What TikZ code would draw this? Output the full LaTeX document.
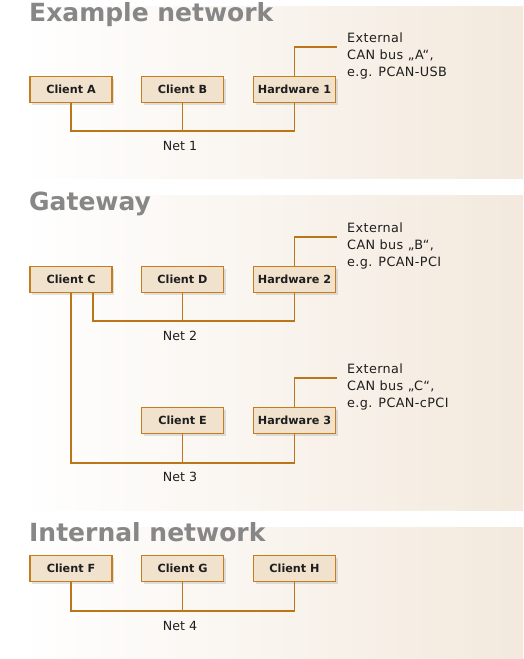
\documentclass[tikz,border=0pt]{standalone}
\usepackage{fontspec}
\setmainfont{DejaVu Sans}
\usetikzlibrary{shadows}
\definecolor{panelbeige}{HTML}{F3E9DD}
\definecolor{boxfill}{HTML}{F1E2CD}
\definecolor{boxline}{HTML}{C47C1C}
\definecolor{wire}{HTML}{BC761A}
\definecolor{headgray}{HTML}{878787}
\definecolor{txt}{HTML}{1E1E1E}
\tikzset{
  unit/.style={draw=boxline, line width=1.7pt, fill=boxfill, minimum width=82pt, minimum height=26pt,
    inner sep=0pt, font=\fontsize{11.2}{12}\selectfont\bfseries, text=txt,
    drop shadow={shadow xshift=2pt, shadow yshift=-2pt, opacity=0.22}},
  wirestyle/.style={draw=wire, line width=1.6pt},
  heading/.style={anchor=base west, inner sep=0pt, font=\fontsize{25}{26}\selectfont\bfseries, text=headgray},
  note/.style={anchor=west, align=left, inner sep=0pt, font=\fontsize{12.8}{16.6}\selectfont\addfontfeatures{LetterSpace=3}, text=txt},
  netlabel/.style={inner sep=0pt, font=\fontsize{12.6}{14}\selectfont, text=txt}
}
\begin{document}
\begin{tikzpicture}[x=1pt,y=-1pt]
\useasboundingbox (0,0) rectangle (524,659);
\fill[white] (0,0) rectangle (524,659);
% panels
\shade[left color=white, right color=panelbeige] (20,6) rectangle (523,178);
\shade[left color=white, right color=panelbeige] (20,195) rectangle (523,510);
\shade[left color=white, right color=panelbeige] (20,527) rectangle (523,658);
% headings
\node[heading] (h1) at (29,21) {Example network};
\node[heading] (h2) at (29,210.5) {Gateway};
\node[heading] (h3) at (29,541.5) {Internal network};
% Example network
\node[unit] (A) at (71,89.5) {Client A};
\node[unit] (B) at (182.5,89.5) {Client B};
\node[unit] (H1) at (294.5,89.5) {Hardware 1};
\coordinate (n1) at (182.5,131);
\draw[wirestyle] (A.south) |- (n1) -| (H1.south);
\draw[wirestyle] (B.south) -- (n1);
\node[netlabel] (l1) at (180,146) {Net 1};
\coordinate (e1) at (337,47);
\draw[wirestyle] (H1.north) |- (e1);
\node[note] (t1) at (347,56) {External\\CAN bus „A“,\\e.g. PCAN-USB};
% Gateway
\node[unit] (C) at (71,279.5) {Client C};
\node[unit] (D) at (182.5,279.5) {Client D};
\node[unit] (H2) at (294.5,279.5) {Hardware 2};
\coordinate (n2) at (182.5,321);
\draw[wirestyle] ([xshift=22pt]C.south) |- (n2) -| (H2.south);
\draw[wirestyle] (D.south) -- (n2);
\node[netlabel] (l2) at (180,336) {Net 2};
\coordinate (e2) at (337,237);
\draw[wirestyle] (H2.north) |- (e2);
\node[note] (t2) at (347,246) {External\\CAN bus „B“,\\e.g. PCAN-PCI};
\node[unit] (E) at (182.5,420.5) {Client E};
\node[unit] (H3) at (294.5,420.5) {Hardware 3};
\coordinate (n3) at (182.5,463);
\draw[wirestyle] (C.south) |- (n3) -| (H3.south);
\draw[wirestyle] (E.south) -- (n3);
\node[netlabel] (l3) at (180,477) {Net 3};
\coordinate (e3) at (337,378);
\draw[wirestyle] (H3.north) |- (e3);
\node[note] (t3) at (347,387) {External\\CAN bus „C“,\\e.g. PCAN-cPCI};
% Internal network
\node[unit] (F) at (71,568.5) {Client F};
\node[unit] (G) at (182.5,568.5) {Client G};
\node[unit] (Hh) at (294.5,568.5) {Client H};
\coordinate (n4) at (182.5,611);
\draw[wirestyle] (F.south) |- (n4) -| (Hh.south);
\draw[wirestyle] (G.south) -- (n4);
\node[netlabel] (l4) at (180,626) {Net 4};
\end{tikzpicture}
\end{document}
